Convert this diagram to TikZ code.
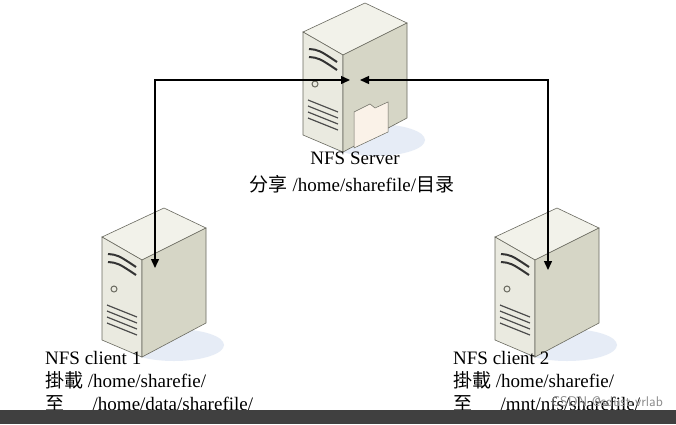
\documentclass[tikz,border=0pt]{standalone}
\usepackage{fontspec}
\setmainfont{Liberation Serif}
\newfontfamily\cjk{Noto Sans CJK SC}
\usetikzlibrary{arrows.meta}
\definecolor{frontc}{HTML}{EAEAE0}
\definecolor{sidec}{HTML}{D6D6C6}
\definecolor{topc}{HTML}{F2F2EA}
\definecolor{edgec}{HTML}{6A6A60}
\definecolor{shadc}{HTML}{E6ECF6}
\tikzset{
  lbl/.style={font=\fontsize{19}{23}\selectfont, align=left, inner sep=0pt, anchor=north west},
  link/.style={line width=1.4pt},
  pics/tower/.style={code={
    \fill[shadc] (72,108) ellipse (50 and 16);
    \filldraw[fill=topc, draw=edgec, line width=0.6pt] (0,0) -- (40,23) -- (104,-9) -- (62,-29) -- cycle;
    \filldraw[fill=frontc, draw=edgec, line width=0.6pt] (0,0) -- (40,23) -- (40,120) -- (0,103) -- cycle;
    \filldraw[fill=sidec, draw=edgec, line width=0.6pt] (40,23) -- (104,-9) -- (104,86) -- (40,120) -- cycle;
    \draw[line width=2pt, black!80] (6,17) .. controls (16,18) .. (34,30);
    \draw[line width=2pt, black!80] (6,25) .. controls (16,26) .. (34,38);
    \draw[edgec, line width=1pt] (12,52) circle (3);
    \foreach \k in {0,1,2,3} \draw[black!70, line width=1.2pt] (5,68+6*\k) -- (35,80+6*\k);
  }}
}
\begin{document}
\begin{tikzpicture}[x=1pt,y=-1pt]
\useasboundingbox (0,0) rectangle (676,424);
\fill[white] (0,0) rectangle (676,424);
\pic at (303,32) {tower};
\pic at (102,237) {tower};
\pic at (495,237) {tower};
% folder
\filldraw[fill=frontc!80!orange!30, draw=edgec, line width=0.5pt] (354,112) -- (370,104) -- (375,108) -- (388,102) -- (388,132) -- (354,148) -- cycle;
\coordinate (s1) at (350,80);
\coordinate (s2) at (360,80);
\coordinate (c1) at (155,268);
\coordinate (c2) at (548,270);
\draw[link, {Triangle[length=9pt,width=8pt]}-{Triangle[length=9pt,width=8pt]}] (c1) -- (155,80) -- (s1);
\draw[link, {Triangle[length=9pt,width=8pt]}-{Triangle[length=9pt,width=8pt]}] (c2) -- (548,80) -- (s2);
\node[lbl, anchor=north] (srv) at (355,152) {NFS Server};
\node[lbl, anchor=north] (srvp) at (352,175) {{\cjk 分享} /home/sharefile/{\cjk 目录}};
\node[lbl] (cl1) at (45,351) {NFS client 1\\{\cjk 掛載} /home/sharefie/\\{\cjk 至}\quad\enspace/home/data/sharefile/};
\node[lbl] (cl2) at (453,351) {NFS client 2\\{\cjk 掛載} /home/sharefie/\\{\cjk 至}\quad\enspace/mnt/nfs/sharefile/};
\fill[black!75] (0,410) rectangle (676,424);
\node[font=\fontsize{14}{14}\sffamily, text=black!45, anchor=east, inner sep=0pt] (wm) at (663,402) {CSDN @sdust-vrlab};
\end{tikzpicture}
\end{document}
